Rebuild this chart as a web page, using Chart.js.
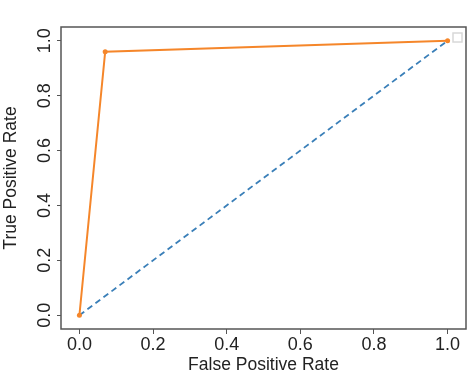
<!DOCTYPE html>
<html>
<head>
<meta charset="utf-8">
<script src="https://cdn.jsdelivr.net/npm/chart.js@4"></script>
<style>
html,body{margin:0;padding:0;background:#fff;}
#wrap{width:474px;height:382px;position:relative;}
</style>
</head>
<body>
<div id="wrap"><canvas id="c" width="474" height="382"></canvas></div>
<script>
const rocFpr = [0.0, 0.07, 1.0];
const rocTpr = [0.0, 0.96, 1.0];
const diagFpr = [0.0, 1.0];
const diagTpr = [0.0, 1.0];
const tickValues = [0.0, 0.2, 0.4, 0.6, 0.8, 1.0];
const xTitle = 'False Positive Rate';
const yTitle = 'True Positive Rate';

const toPts = (xs, ys) => xs.map((x, i) => ({x: x, y: ys[i]}));

const boxPlugin = {
  id: 'box',
  afterDraw(chart) {
    const {ctx, chartArea: a} = chart;
    ctx.save();
    ctx.strokeStyle = '#555';
    ctx.lineWidth = 1.5;
    ctx.strokeRect(a.left, a.top, a.right - a.left, a.bottom - a.top);
    // empty legend marker
    ctx.strokeStyle = '#d8d8d8';
    ctx.lineWidth = 1.5;
    ctx.strokeRect(a.right - 13, a.top + 6, 9, 9);
    ctx.restore();
  }
};

const tickFont = {family: 'Liberation Sans, Arial', size: 18};
const titleFont = {family: 'Liberation Sans, Arial', size: 17.5};

new Chart(document.getElementById('c'), {
  type: 'scatter',
  data: {
    datasets: [
      {
        label: 'diag',
        data: toPts(diagFpr, diagTpr),
        showLine: true,
        borderColor: '#3a7fb8',
        borderWidth: 1.8,
        borderDash: [6, 4],
        pointRadius: 0,
        order: 2
      },
      {
        label: 'roc',
        data: toPts(rocFpr, rocTpr),
        showLine: true,
        borderColor: '#f5862a',
        backgroundColor: '#f5862a',
        borderWidth: 2,
        pointRadius: 2.5,
        pointBorderWidth: 0,
        order: 1
      }
    ]
  },
  options: {
    responsive: false,
    animation: false,
    layout: {padding: {top: 27, right: 8, left: 0, bottom: 0}},
    plugins: {legend: {display: false}, tooltip: {enabled: false}},
    scales: {
      x: {
        type: 'linear',
        min: -0.05, max: 1.05,
        afterBuildTicks: s => { s.ticks = tickValues.map(v => ({value: v})); },
        afterFit: s => { s.height = 53; },
        border: {display: false},
        grid: {display: true, drawOnChartArea: false, drawTicks: true, tickLength: 5, color: '#555', lineWidth: 1},
        ticks: {font: tickFont, color: '#222', padding: 0, maxRotation: 0,
          callback: v => v.toFixed(1)},
        title: {display: true, text: xTitle, font: titleFont, color: '#222', padding: {top: 0, bottom: 6}}
      },
      y: {
        type: 'linear',
        min: -0.05, max: 1.05,
        afterBuildTicks: s => { s.ticks = tickValues.map(v => ({value: v})); },
        afterFit: s => { s.width = 61; },
        border: {display: false},
        grid: {display: true, drawOnChartArea: false, drawTicks: true, tickLength: 4, color: '#555', lineWidth: 1},
        ticks: {font: tickFont, color: '#222', padding: -1, minRotation: 90, maxRotation: 90, crossAlign: 'center',
          callback: v => v.toFixed(1)},
        title: {display: true, text: yTitle, font: titleFont, color: '#222', padding: {top: 1, bottom: 0}}
      }
    }
  },
  plugins: [boxPlugin]
});
</script>
</body>
</html>
